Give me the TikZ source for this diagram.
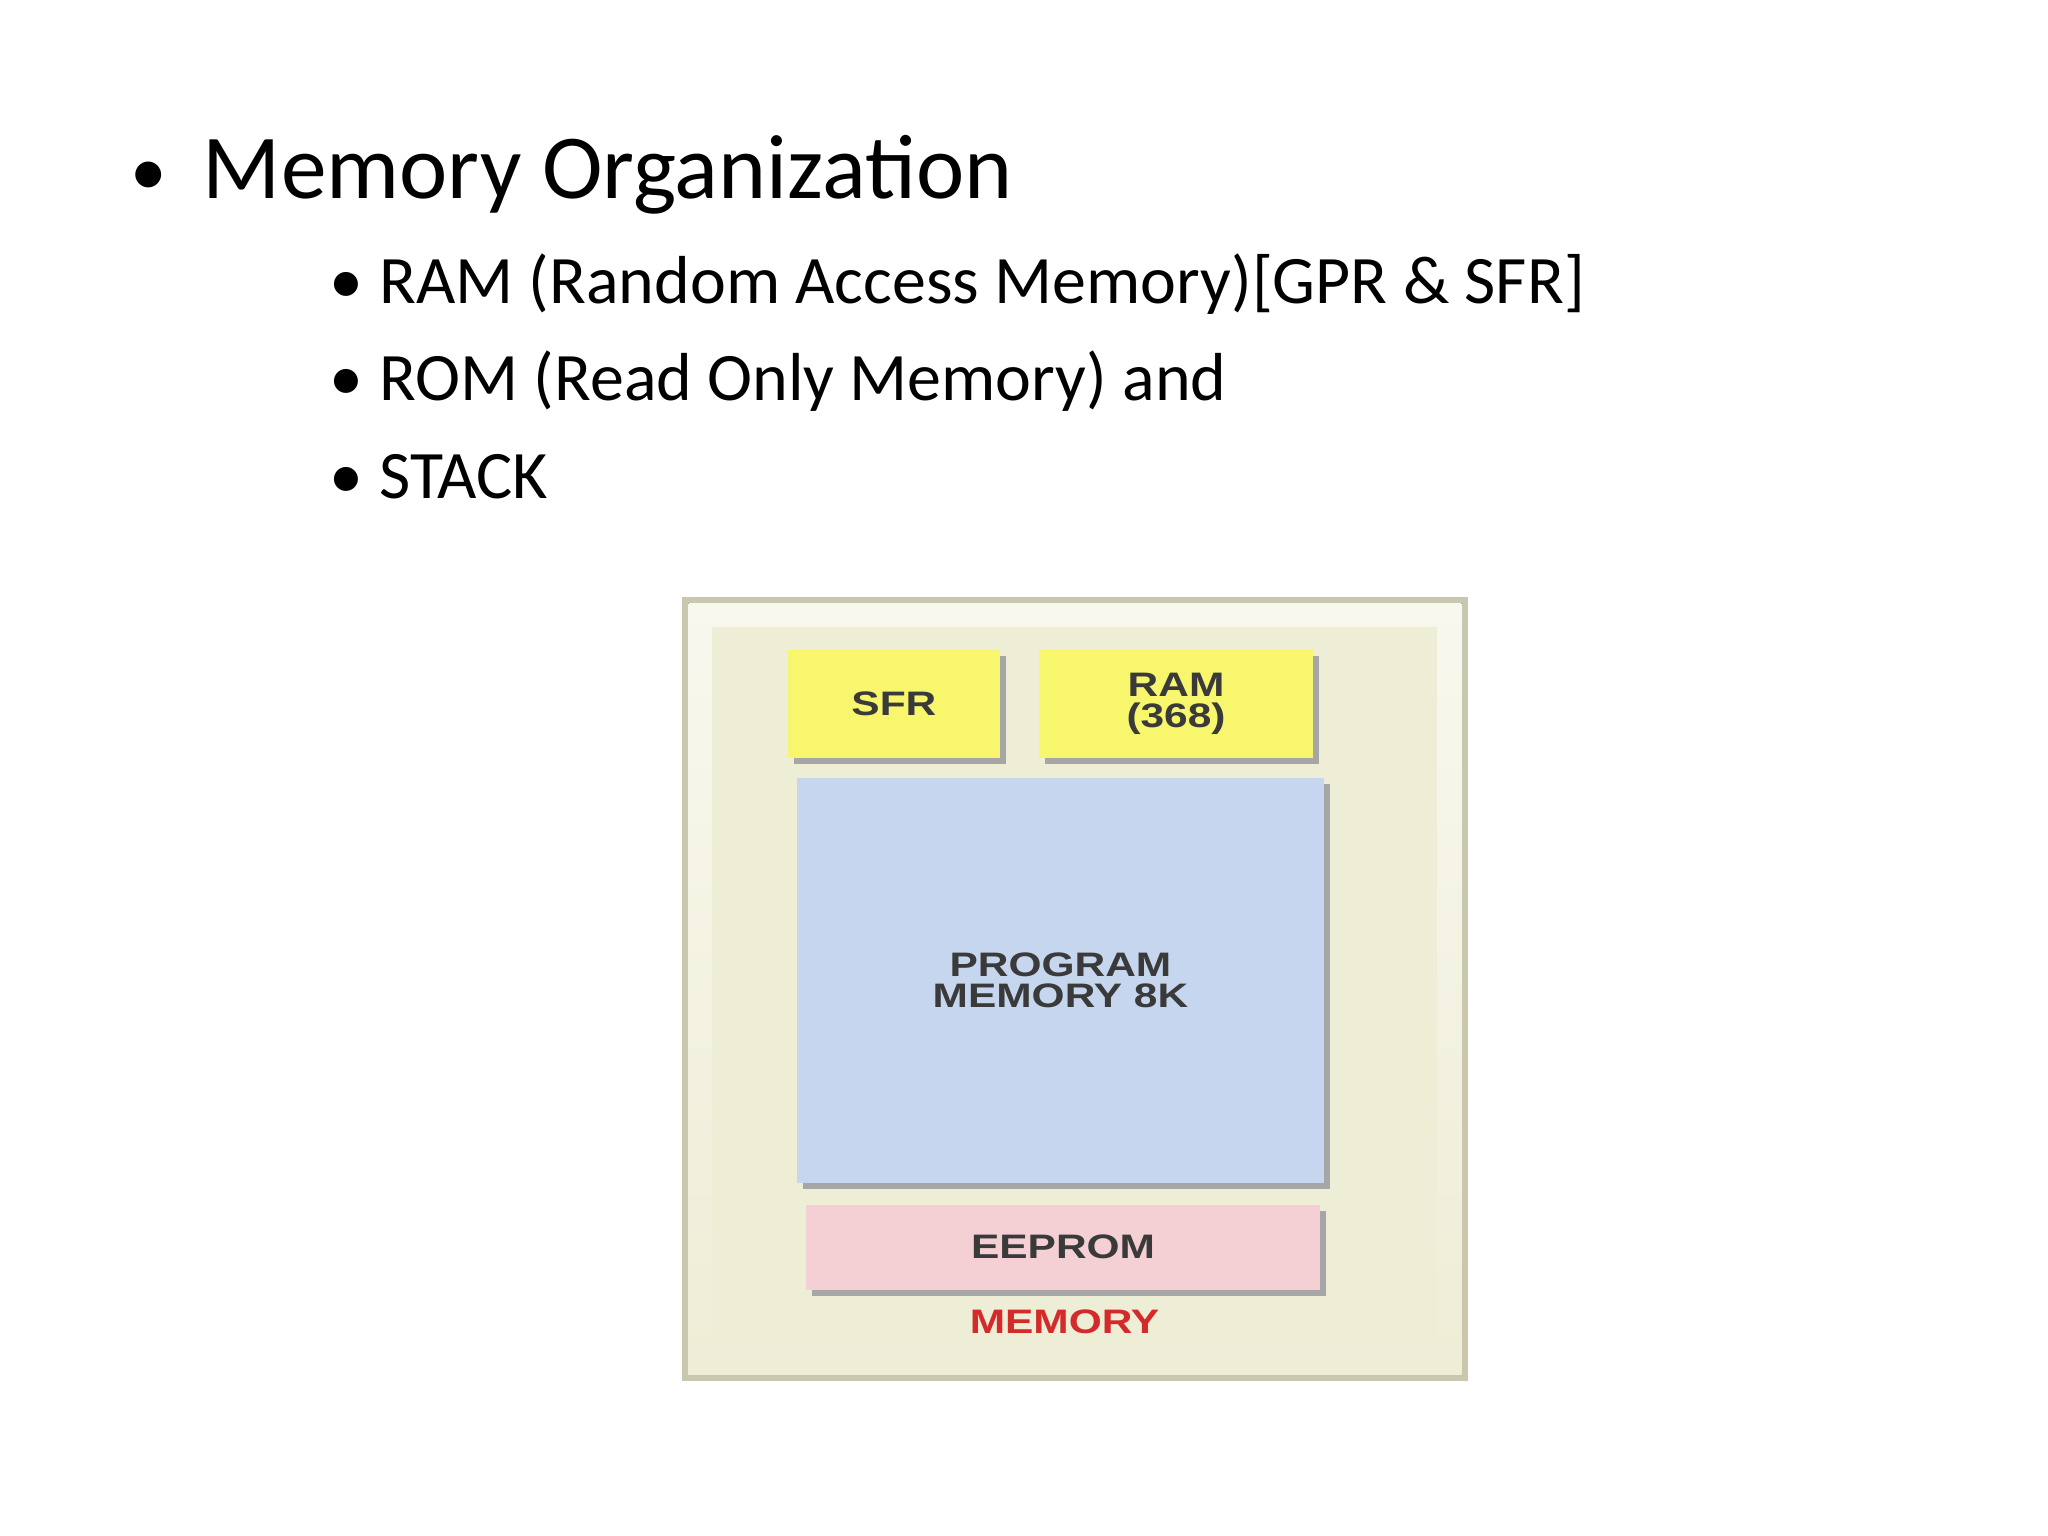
\documentclass[tikz,border=0pt]{standalone}
\usepackage{fontspec}
\setmainfont{Carlito}
\newfontfamily\boxfont{Liberation Sans}
\usetikzlibrary{shadows}
\definecolor{frame}{HTML}{EEEDD6}
\definecolor{frameedge}{HTML}{C9C8AE}
\definecolor{yel}{HTML}{F8F66C}
\definecolor{blu}{HTML}{C5D6EE}
\definecolor{pnk}{HTML}{F4D0D5}
\definecolor{txt}{HTML}{3A3A3A}
\definecolor{memred}{HTML}{D42A2A}
\begin{document}
\begin{tikzpicture}[x=0.5pt,y=-0.5pt,
  blk/.style={draw=none,inner sep=0pt},
  lbl/.style={font=\boxfont\bfseries\fontsize{13}{12}\selectfont,text=txt,align=center,xscale=1.25},
  bul/.style={anchor=base west},
  sub/.style={anchor=base west,font=\fontsize{26}{28}\selectfont}]
\useasboundingbox (0,0) rectangle (1568,1176);
% title
\node[bul,font=\fontsize{28}{30}\selectfont] (tb) at (93,150) {•};
\node[anchor=base west,font=\fontsize{35}{38}\selectfont,inner sep=0pt] (t) at (155,152) {Memory Organization};
\node[sub] (d1) at (245,232) {•};
\node[sub] (d2) at (245,307) {•};
\node[sub] (d3) at (245,382) {•};
\node[sub,inner sep=0pt] (b1) at (290,232) {RAM (Random Access Memory)[GPR \& SFR]};
\node[sub,inner sep=0pt] (b2) at (290,307) {ROM (Read Only Memory) and};
\node[sub,inner sep=0pt] (b3) at (290,382) {STACK};
% frame
\fill[frameedge] (522,457) rectangle (1124,1057);
\fill[top color=white!60!frame,bottom color=frame] (527,462) rectangle (1119,1052);
\fill[frame] (545,480) rectangle (1100,1035);
% blocks
\fill[gray!70] (608,502) rectangle (770,585);
\node[blk,fill=yel,minimum width=81pt,minimum height=41.5pt,anchor=north west] (sfr) at (603,497) {};
\node[lbl] at (sfr.center) {SFR};
\fill[gray!70] (800,502) rectangle (1010,585);
\node[blk,fill=yel,minimum width=105pt,minimum height=41.5pt,anchor=north west] (ram) at (795,497) {};
\node[lbl] at (ram.center) {RAM\\(368)};
\fill[gray!70] (615,600) rectangle (1018,910);
\node[blk,fill=blu,minimum width=201.5pt,minimum height=155pt,anchor=north west] (pm) at (610,595) {};
\node[lbl] at (pm.center) {PROGRAM\\MEMORY 8K};
\fill[gray!70] (622,927) rectangle (1015,992);
\node[blk,fill=pnk,minimum width=196.5pt,minimum height=32.5pt,anchor=north west] (ee) at (617,922) {};
\node[lbl] at (ee.center) {EEPROM};
\node[lbl,text=memred] (mem) at (815,1012) {MEMORY};
\end{tikzpicture}
\end{document}
